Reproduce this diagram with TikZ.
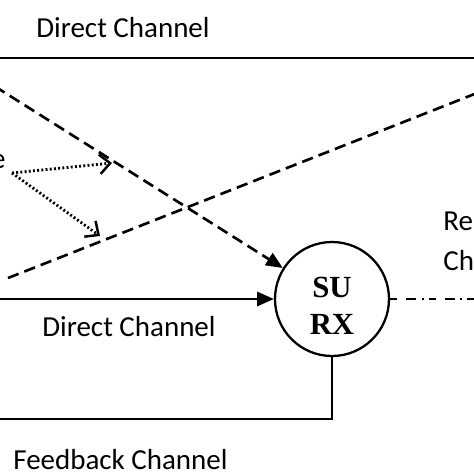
\documentclass[tikz,border=0pt]{standalone}
\usepackage{fontspec}
\setmainfont{Carlito}
\newfontfamily\rxfont{Liberation Serif}
\usetikzlibrary{arrows.meta,calc}
\tikzset{>=stealth}
\tikzset{
  chanline/.style={line width=1.5pt},
  dashline/.style={line width=1.5pt, dash pattern=on 6.5pt off 3.5pt},
  dotline/.style={line width=1.6pt, dash pattern=on 1.1pt off 1.3pt},
  chanlabel/.style={font=\fontsize{16.5}{20}\selectfont, inner sep=0pt, anchor=base west},
  solidtip/.style={-{Triangle[length=9.5pt,width=8pt]}},
  opentip/.style={-{Straight Barb[length=6pt,width=11pt,line width=1.4pt]}}
}
\begin{document}
\begin{tikzpicture}[x=0.02cm, y=-0.02cm]
  \useasboundingbox (0,0) rectangle (474,474);
  \clip (0,0) rectangle (474,474);
  \coordinate (topL) at (0,58);
  \coordinate (topR) at (474,58);
  \coordinate (d1) at (-20,77);
  \coordinate (d2s) at (8,278);
  \coordinate (d2e) at (510,80);
  \coordinate (src) at (12,173);
  \coordinate (i1) at (112,163);
  \coordinate (i2) at (100,236);
  \coordinate (din) at (0,299);
  \coordinate (fb) at (0,419);
  \coordinate (rc) at (474,299);
  \node[circle, draw, line width=1.3pt, minimum size=114*0.02cm, inner sep=0pt] (rx) at (332,299) {};
  \node[font=\rxfont\bfseries\fontsize{17.5}{21}\selectfont, align=center, inner sep=0pt] (rxlabel) at (332,306) {SU\\RX};
  \draw[chanline] (topL) -- (topR);
  \node[chanlabel] (dc1) at (36,37) {Direct Channel};
  \draw[dashline, solidtip] (d1) -- (rx);
  \draw[dashline] (d2s) -- (d2e);
  \draw[dotline, opentip] (src) -- (i1);
  \draw[dotline, opentip] (src) -- (i2);
  \node[chanlabel, anchor=base east] (intf) at (6,168) {e};
  \draw[chanline, solidtip] (din) -- (rx.west);
  \node[chanlabel] (dc2) at (42,336) {Direct Channel};
  \draw[line width=1.3pt] (rx.south) |- (fb);
  \node[chanlabel] (fbl) at (13,469) {Feedback Channel};
  \draw[line width=1.1pt, dash pattern=on 4pt off 5pt on 6pt off 3pt on 1pt off 3pt] (rx.east) -- (rc);
  \node[chanlabel] (re) at (443,230) {Re};
  \node[chanlabel] (ch) at (443,270) {Ch};
\end{tikzpicture}
\end{document}
